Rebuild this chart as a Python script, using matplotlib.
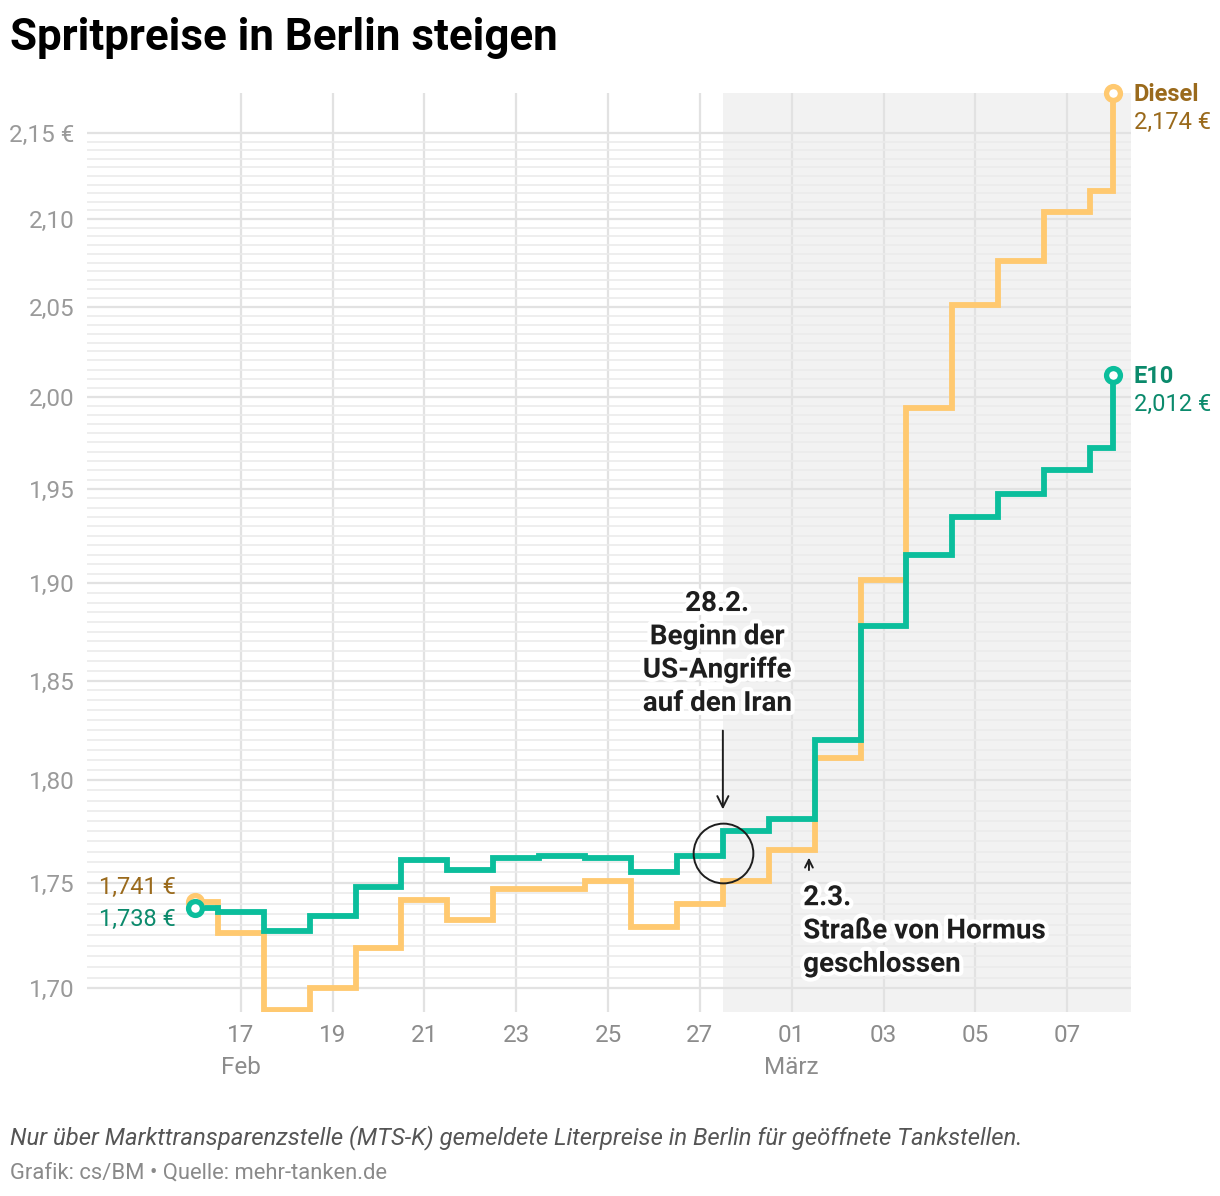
import numpy as np
import pandas as pd
import matplotlib
matplotlib.use('Agg')
import matplotlib.pyplot as plt
import matplotlib.patheffects as pe
from matplotlib.ticker import FixedLocator, NullFormatter

plt.rcParams['font.family'] = ['Roboto', 'DejaVu Sans']

# Daily averages Berlin (16.02. - 08.03.), last value = current price
dates = pd.date_range('2026-02-16', '2026-03-08', freq='D')
e10 = [1.738, 1.736, 1.727, 1.734, 1.748, 1.761, 1.756, 1.762, 1.763, 1.762, 1.755,
       1.763, 1.775, 1.781, 1.820, 1.878, 1.915, 1.935, 1.947, 1.960, 1.972]
diesel = [1.741, 1.726, 1.690, 1.700, 1.719, 1.742, 1.732, 1.747, 1.747, 1.751, 1.729,
          1.740, 1.751, 1.766, 1.811, 1.902, 1.994, 2.051, 2.076, 2.104, 2.116]
e10_now = 2.012
diesel_now = 2.174

ytick_vals = [1.70, 1.75, 1.80, 1.85, 1.90, 1.95, 2.00, 2.05, 2.10, 2.15]
ytick_labels = ['1,70', '1,75', '1,80', '1,85', '1,90', '1,95', '2,00', '2,05', '2,10', '2,15 €']
xtick_dates = pd.date_range('2026-02-17', '2026-03-07', freq='2D')
xtick_labels = ['17\nFeb', '19', '21', '23', '25', '27', '01\nMärz', '03', '05', '07']

C_DIESEL = '#ffc970'
C_E10 = '#0bbe9c'
T_DIESEL = '#9a6a1c'
T_E10 = '#0b8a6c'
GREY = '#8c8c8c'

half = pd.Timedelta(hours=12)


def step_xy(vals, now):
    xs = [dates[0]] + [d - half for d in dates[1:]] + [dates[-1]]
    ys = list(vals) + [now]
    return xs, ys


fig = plt.figure(figsize=(12.2, 11.96), dpi=100)
ax = fig.add_axes([87 / 1220, 1 - 1012 / 1196, (1131 - 87) / 1220, (1012 - 93) / 1196])
ax.set_yscale('log')
ax.set_ylim(1.689, 2.174)
ax.set_xlim(dates[0] - pd.Timedelta(days=2.35), dates[-1] + pd.Timedelta(days=0.39))

# shaded war period
ax.axvspan(pd.Timestamp('2026-02-27 12:00'), dates[-1] + pd.Timedelta(days=1), color='#f2f2f2', zorder=0, lw=0)

# grid
ax.yaxis.set_major_locator(FixedLocator(ytick_vals))
ax.yaxis.set_minor_locator(FixedLocator(np.arange(1.70, 2.151, 0.005)))
ax.yaxis.set_minor_formatter(NullFormatter())
ax.set_yticklabels(ytick_labels)
ax.set_xticks(xtick_dates)
ax.set_xticklabels(xtick_labels, linespacing=1.45)
ax.grid(which='major', axis='both', color='#e2e2e2', lw=1.6, zorder=1)
ax.grid(which='minor', axis='y', color='#ebebeb', lw=1.2, zorder=1)
ax.tick_params(which='both', length=0)
ax.tick_params(axis='y', labelsize=17.5, labelcolor='#9a9a9a', pad=9)
ax.tick_params(axis='x', labelsize=17.5, labelcolor=GREY, pad=9)
for s in ax.spines.values():
    s.set_visible(False)
ax.set_axisbelow(True)

# lines
xd, yd = step_xy(diesel, diesel_now)
xe, ye = step_xy(e10, e10_now)
ax.plot(xd, yd, drawstyle='steps-post', color=C_DIESEL, lw=4.2, zorder=3, solid_joinstyle='miter')
ax.plot(xe, ye, drawstyle='steps-post', color=C_E10, lw=4.2, zorder=4, solid_joinstyle='miter')

# markers
ax.plot([dates[0]], [diesel[0]], 'o', ms=10, mfc='white', mec=C_DIESEL, mew=3.8, zorder=5, clip_on=False)
ax.plot([dates[0]], [e10[0]], 'o', ms=10, mfc='white', mec=C_E10, mew=3.8, zorder=6, clip_on=False)
ax.plot([dates[-1]], [diesel_now], 'o', ms=10, mfc='white', mec=C_DIESEL, mew=3.8, zorder=6, clip_on=False)
ax.plot([dates[-1]], [e10_now], 'o', ms=10, mfc='white', mec=C_E10, mew=3.8, zorder=6, clip_on=False)

# start labels
ax.annotate('1,741 €', (dates[0], diesel[0]), xytext=(-14, 10), textcoords='offset points',
            ha='right', va='center', fontsize=17, color=T_DIESEL)
ax.annotate('1,738 €', (dates[0], e10[0]), xytext=(-14, -8), textcoords='offset points',
            ha='right', va='center', fontsize=17, color=T_E10)

# end labels
for val, name, col in [(diesel_now, 'Diesel', T_DIESEL), (e10_now, 'E10', T_E10)]:
    ax.annotate(name, (dates[-1], val), xytext=(15, -1), textcoords='offset points',
                ha='left', va='center', fontsize=17, fontweight='bold', color=col, annotation_clip=False)
    ax.annotate(f'{val:.3f} €'.replace('.', ','), (dates[-1], val), xytext=(15, -21),
                textcoords='offset points', ha='left', va='center', fontsize=17, color=col,
                annotation_clip=False)

# annotations
halo = [pe.withStroke(linewidth=6, foreground='white')]
war_x = pd.Timestamp('2026-02-27 12:00')
ax.text(pd.Timestamp('2026-02-27 09:00'), 1.8638, '28.2.\nBeginn der\nUS-Angriffe\nauf den Iran',
        ha='center', va='center', fontsize=20, fontweight='bold', color='#1e1e1e',
        linespacing=1.3, path_effects=halo, zorder=7)
ax.annotate('', xy=(war_x, 1.7843), xytext=(war_x, 1.8261),
            arrowprops=dict(arrowstyle='->', color='#1e1e1e', lw=1.4, mutation_scale=20), zorder=7)
ax.plot([war_x], [1.7645], 'o', ms=43, mfc='none', mec='#1e1e1e', mew=1.4, zorder=7)

hormus_x = pd.Timestamp('2026-03-01 09:00')
ax.text(pd.Timestamp('2026-03-01 06:00'), 1.7270, '2.3.\nStraße von Hormus\ngeschlossen',
        ha='left', va='center', fontsize=20, fontweight='bold', color='#1e1e1e',
        linespacing=1.3, path_effects=halo, zorder=7)
ax.annotate('', xy=(hormus_x, 1.7635), xytext=(hormus_x, 1.7548),
            arrowprops=dict(arrowstyle='->', color='#1e1e1e', lw=1.4, mutation_scale=14), zorder=7)

# title and footer
fig.text(10 / 1220, 1 - 50 / 1196, 'Spritpreise in Berlin steigen', fontsize=31.6, fontweight='bold',
         color='black', ha='left', va='baseline')
fig.text(10 / 1220, 1 - 1144 / 1196,
         'Nur über Markttransparenzstelle (MTS-K) gemeldete Literpreise in Berlin für geöffnete Tankstellen.',
         fontsize=17.2, style='italic', color='#555555', ha='left', va='baseline')
fig.text(10 / 1220, 1 - 1179 / 1196, 'Grafik: cs/BM • Quelle: mehr-tanken.de',
         fontsize=15.8, color='#8a8a8a', ha='left', va='baseline')

fig.savefig('out.png', dpi=100, facecolor='white')
